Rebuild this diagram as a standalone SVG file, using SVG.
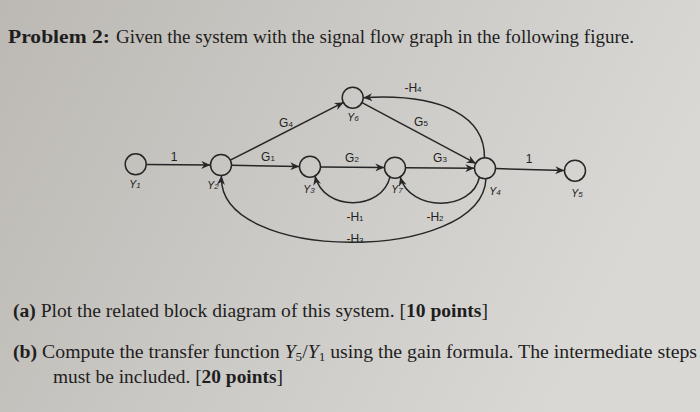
<svg xmlns="http://www.w3.org/2000/svg" width="700" height="412" viewBox="0 0 700 412">
<defs>
<linearGradient id="bg" x1="0" y1="0" x2="1" y2="0.3">
<stop offset="0" stop-color="#bcb9b4"/>
<stop offset="0.5" stop-color="#cbc9c5"/>
<stop offset="1" stop-color="#d9d8d5"/>
</linearGradient>
<marker id="arr" markerWidth="10" markerHeight="8" refX="9" refY="4" orient="auto" markerUnits="userSpaceOnUse">
<path d="M0,0 L9,4 L0,8 L2.8,4 z" fill="#262626"/>
</marker>
<style>
.edge{fill:none;stroke:#262626;stroke-width:1.5;marker-end:url(#arr)}
.node{fill:none;stroke:#262626;stroke-width:1.5}
.lbl{font-family:"Liberation Sans",Arial,sans-serif;font-size:12px;fill:#222;text-anchor:middle}
.ylbl{font-family:"Liberation Sans",Arial,sans-serif;font-size:10.5px;font-style:italic;fill:#222;text-anchor:middle}
.sub{font-size:8px}
.txt{font-family:"Liberation Serif","Times New Roman",serif;font-size:18px;fill:#1e1e1e}
.b{font-weight:bold}
.i{font-style:italic}
</style>
</defs>
<rect x="0" y="0" width="700" height="412" fill="url(#bg)"/>

<text class="txt" x="8" y="43" font-size="19" textLength="102" lengthAdjust="spacingAndGlyphs"><tspan class="b">Problem 2:</tspan></text>
<text class="txt" x="116" y="43" font-size="19" textLength="518" lengthAdjust="spacingAndGlyphs">Given the system with the signal flow graph in the following figure.</text>

<g id="connectors">
<path class="edge" d="M146.5,164.4 L210.3,165"/>
<path class="edge" d="M231.5,165.2 L299.3,166.5"/>
<path class="edge" d="M320.5,166.9 L384.3,167.5"/>
<path class="edge" d="M405.5,167.8 L474.3,168.2"/>
<path class="edge" d="M495.5,168.6 L564.3,170.4"/>
<path class="edge" d="M230.3,160.2 L343.5,102.4"/>
<path class="edge" d="M362,102.6 L475.8,163.4"/>
<path class="edge" d="M484.5,157.8 C485,118 445,93 363.3,97.7"/>
<path class="edge" d="M390,176.9 C382,211 324,212 315,176"/>
<path class="edge" d="M479.5,177 C472,212 410,212 400.2,177"/>
<path class="edge" d="M486,178.7 C482,264 216,264 221.5,175.7"/>
</g>

<g id="edge-labels">
<text class="lbl" x="174" y="161">1</text>
<text class="lbl" x="268" y="161">G<tspan class="sub">1</tspan></text>
<text class="lbl" x="352" y="162">G<tspan class="sub">2</tspan></text>
<text class="lbl" x="440" y="162">G<tspan class="sub">3</tspan></text>
<text class="lbl" x="529" y="163">1</text>
<text class="lbl" x="286" y="127">G<tspan class="sub">4</tspan></text>
<text class="lbl" x="421" y="126">G<tspan class="sub">5</tspan></text>
<text class="lbl" x="413" y="92">-H<tspan class="sub">4</tspan></text>
<text class="lbl" x="355" y="221">-H<tspan class="sub">1</tspan></text>
<text class="lbl" x="435" y="221">-H<tspan class="sub">2</tspan></text>
<text class="lbl" x="355" y="243">-H<tspan class="sub">3</tspan></text>
</g>

<g id="Y1"><circle class="node" cx="135.7" cy="164.3" r="10.5"/><text class="ylbl" x="135" y="188">Y<tspan class="sub">1</tspan></text></g>
<g id="Y2"><circle class="node" cx="221" cy="165" r="10.5"/><text class="ylbl" x="213" y="189">Y<tspan class="sub">2</tspan></text></g>
<g id="Y3"><circle class="node" cx="310" cy="166.7" r="10.5"/><text class="ylbl" x="309" y="192.5">Y<tspan class="sub">3</tspan></text></g>
<g id="Y6"><circle class="node" cx="352.7" cy="97.7" r="10.5"/><text class="ylbl" x="353" y="121">Y<tspan class="sub">6</tspan></text></g>
<g id="Y7"><circle class="node" cx="395" cy="167.7" r="10.5"/><text class="ylbl" x="397" y="193">Y<tspan class="sub">7</tspan></text></g>
<g id="Y4"><circle class="node" cx="485" cy="168.3" r="10.5"/><text class="ylbl" x="495" y="194.5">Y<tspan class="sub">4</tspan></text></g>
<g id="Y5"><circle class="node" cx="575" cy="170.7" r="10.5"/><text class="ylbl" x="577" y="196.5">Y<tspan class="sub">5</tspan></text></g>

<text class="txt" x="13" y="317" textLength="475" lengthAdjust="spacingAndGlyphs"><tspan class="b">(a)</tspan> Plot the related block diagram of this system. [<tspan class="b">10 points</tspan>]</text>
<text class="txt" x="13" y="357.5" textLength="684" lengthAdjust="spacingAndGlyphs"><tspan class="b">(b)</tspan> Compute the transfer function <tspan class="i">Y</tspan><tspan font-size="12" dy="3">5</tspan><tspan dy="-3">/</tspan><tspan class="i">Y</tspan><tspan font-size="12" dy="3">1</tspan><tspan dy="-3"> using the gain formula. The intermediate steps</tspan></text>
<text class="txt" x="53" y="383" textLength="230" lengthAdjust="spacingAndGlyphs">must be included. [<tspan class="b">20 points</tspan>]</text>
</svg>
